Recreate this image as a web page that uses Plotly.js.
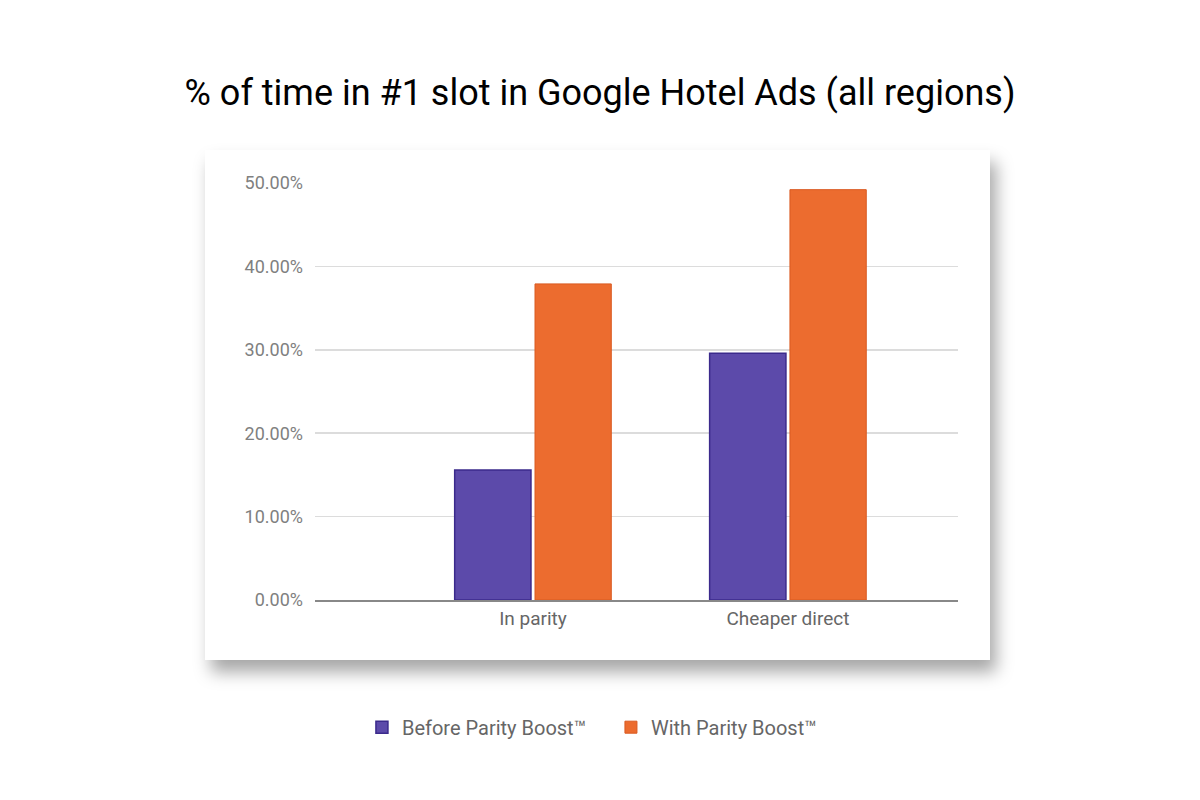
<!DOCTYPE html>
<html>
<head>
<meta charset="utf-8">
<script src="https://cdn.plot.ly/plotly-3.0.1.min.js"></script>
<style>
  html, body { margin: 0; padding: 0; background: #fff; }
  #wrap { position: relative; width: 1200px; height: 800px; }
  #panel {
    position: absolute; left: 205px; top: 150px; width: 785px; height: 510px;
    background: #fff; box-shadow: 6px 12px 16px rgba(0, 0, 0, 0.35);
  }
  #chart { position: absolute; left: 0; top: 0; width: 1200px; height: 800px; }
</style>
</head>
<body>
<div id="wrap">
  <div id="panel"></div>
  <div id="chart"></div>
</div>
<script>
const categories = ["In parity", "Cheaper direct"];
const beforeValues = [0.156, 0.296];
const withValues = [0.379, 0.492];
const seriesNames = ["Before Parity Boost\u2122", "With Parity Boost\u2122"];
const yTicks = [0, 0.1, 0.2, 0.3, 0.4, 0.5];

const data = [
  {
    type: "bar",
    name: seriesNames[0],
    x: categories,
    y: beforeValues,
    marker: { color: "#5c4aaa", line: { color: "#3b2a8c", width: 1.5 } },
    hoverinfo: "none",
  },
  {
    type: "bar",
    name: seriesNames[1],
    x: categories,
    y: withValues,
    marker: { color: "#ec6c2f", line: { color: "#d95a20", width: 1 } },
    hoverinfo: "none",
  },
];

const layout = {
  width: 1200,
  height: 800,
  paper_bgcolor: "rgba(0,0,0,0)",
  plot_bgcolor: "rgba(0,0,0,0)",
  margin: { l: 315, r: 242, t: 183, b: 200 },
  font: { family: "Roboto, sans-serif" },
  title: {
    text: "% of time in #1 slot in Google Hotel Ads (all regions)",
    font: { family: "Roboto, sans-serif", size: 36, color: "#000" },
    x: 0.5,
    xanchor: "center",
    y: 0.885,
    yanchor: "middle",
  },
  barmode: "group",
  bargap: 0.37,
  bargroupgap: 0.05,
  xaxis: {
    type: "category",
    range: [-0.855, 1.667],
    showgrid: false,
    showline: true,
    linecolor: "#888",
    linewidth: 1.5,
    ticks: "",
    ticklabelstandoff: 1,
    tickfont: { size: 19, color: "#666" },
    fixedrange: true,
  },
  yaxis: {
    range: [0, 0.5],
    tickvals: yTicks,
    tickformat: ".2%",
    showgrid: true,
    gridcolor: "#dcdcdc",
    gridwidth: 1.5,
    zeroline: false,
    showline: false,
    ticks: "",
    ticklabelstandoff: 11,
    tickfont: { size: 18, color: "#808080" },
    fixedrange: true,
  },
  legend: {
    orientation: "h",
    x: 0.073,
    xanchor: "left",
    y: -0.305,
    yanchor: "middle",
    font: { size: 20, color: "#666" },
    itemwidth: 30,
    entrywidth: 204,
    traceorder: "normal",
  },
  showlegend: true,
};

Plotly.newPlot("chart", data, layout, { displayModeBar: false, staticPlot: true });
</script>
</body>
</html>
